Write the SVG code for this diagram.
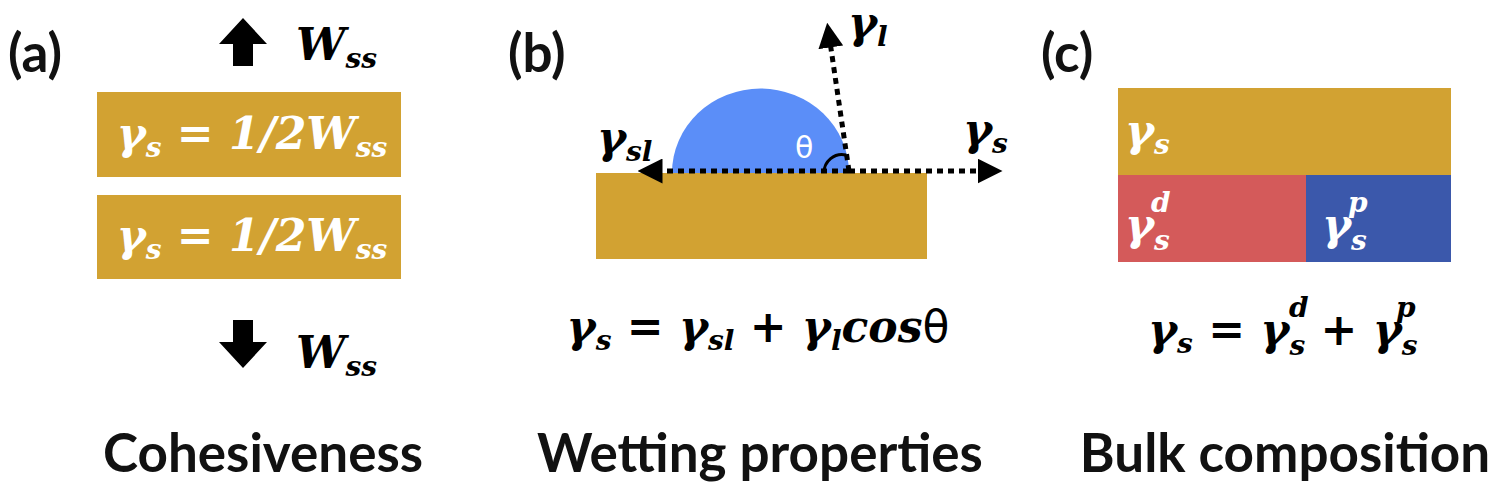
<svg xmlns="http://www.w3.org/2000/svg" width="1500" height="490" viewBox="0 0 1500 490">
<style>
.m{font-family:"DejaVu Serif","Liberation Serif",serif;font-style:italic;font-weight:bold;font-size:44px}
.w{fill:#fff}
.lab{font-family:Lato,"Open Sans",sans-serif;font-weight:bold;font-size:53px;fill:#111}
.gold{fill:#D2A232}
.dot{stroke:#000;stroke-width:5;stroke-dasharray:6 5;fill:none}
.sb{font-size:28px}
</style>
<defs><marker id="ah" viewBox="0 0 10 10" refX="5" refY="5" markerWidth="5" markerHeight="5" orient="auto"><path d="M0,0L10,5L0,10z"/></marker></defs>
<rect width="1500" height="490" fill="#fff"/>
<g id="panel-a">
<text x="8" y="72" class="lab" font-size="54">(a)</text>
<path d="M233,66h20v-22h14l-24,-26l-24,26h14z"/>
<text x="296" y="60" class="m">W<tspan class="sb" dy="8">ss</tspan></text>
<rect x="97" y="92" width="304" height="85" class="gold"/>
<text x="252" y="149" class="m w" font-size="38" text-anchor="middle">γ<tspan class="sb" dy="8">s</tspan><tspan dy="-8"> = 1/2W</tspan><tspan class="sb" dy="8">ss</tspan></text>
<rect x="97" y="195" width="304" height="84" class="gold"/>
<text x="252" y="251" class="m w" font-size="38" text-anchor="middle">γ<tspan class="sb" dy="8">s</tspan><tspan dy="-8"> = 1/2W</tspan><tspan class="sb" dy="8">ss</tspan></text>
<path d="M233,320h20v22h14l-24,26l-24,-26h14z"/>
<text x="296" y="368" class="m">W<tspan class="sb" dy="8">ss</tspan></text>
<text x="263" y="472" class="lab" text-anchor="middle">Cohesiveness</text>
</g>
<g id="panel-b">
<text x="508" y="72" class="lab" font-size="54">(b)</text>
<rect x="596" y="173" width="331" height="86" class="gold"/>
<path d="M672,173A88,84 0 0 1 849,173Z" fill="#5B8EF8"/>
<text x="795" y="158" font-family="DejaVu Sans,sans-serif" font-size="30" fill="#fff">θ</text>
<path d="M824,173a18,18 0 0 1 22,-18" stroke="#000" stroke-width="3" fill="none"/>
<g id="connectors">
<path class="dot" d="M849,171H650" marker-end="url(#ah)"/>
<path class="dot" d="M849,171H990" marker-end="url(#ah)"/>
<path class="dot" d="M849,171L829,35" marker-end="url(#ah)"/>
</g>
<text x="597" y="153" class="m">γ<tspan class="sb" dy="8">sl</tspan></text>
<text x="963" y="145" class="m">γ<tspan class="sb" dy="8">s</tspan></text>
<text x="848" y="38" class="m">γ<tspan class="sb" dy="8">l</tspan></text>
<text x="758" y="342" class="m" text-anchor="middle">γ<tspan class="sb" dy="8">s</tspan><tspan dy="-8"> = γ</tspan><tspan class="sb" dy="8">sl</tspan><tspan dy="-8"> + γ</tspan><tspan class="sb" dy="8">l</tspan><tspan dy="-8">cos</tspan><tspan font-family="DejaVu Sans,sans-serif" font-style="normal" font-weight="normal">θ</tspan></text>
<text x="760" y="472" class="lab" text-anchor="middle">Wetting properties</text>
</g>
<g id="panel-c">
<text x="1041" y="72" class="lab" font-size="54">(c)</text>
<rect x="1118" y="88" width="333" height="87" class="gold"/>
<text x="1125" y="146" class="m w">γ<tspan class="sb" dy="8">s</tspan></text>
<rect x="1118" y="175" width="188" height="87" fill="#D45A5A"/>
<text x="1125" y="240" class="m w">γ<tspan class="sb" dy="10">s</tspan></text>
<text x="1151" y="212" class="m w sb">d</text>
<rect x="1306" y="175" width="145" height="87" fill="#3B58AB"/>
<text x="1322" y="240" class="m w">γ<tspan class="sb" dy="10">s</tspan></text>
<text x="1348" y="212" class="m w sb">p</text>
<text x="1148" y="345" class="m">γ<tspan class="sb" dy="8">s</tspan><tspan dy="-8"> = γ</tspan><tspan class="sb" dy="10">s</tspan><tspan dy="-10">  + γ</tspan><tspan class="sb" dy="10">s</tspan></text>
<text x="1289" y="317" class="m sb">d</text>
<text x="1396" y="317" class="m sb">p</text>
<text x="1285" y="472" class="lab" text-anchor="middle">Bulk composition</text>
</g>
</svg>
